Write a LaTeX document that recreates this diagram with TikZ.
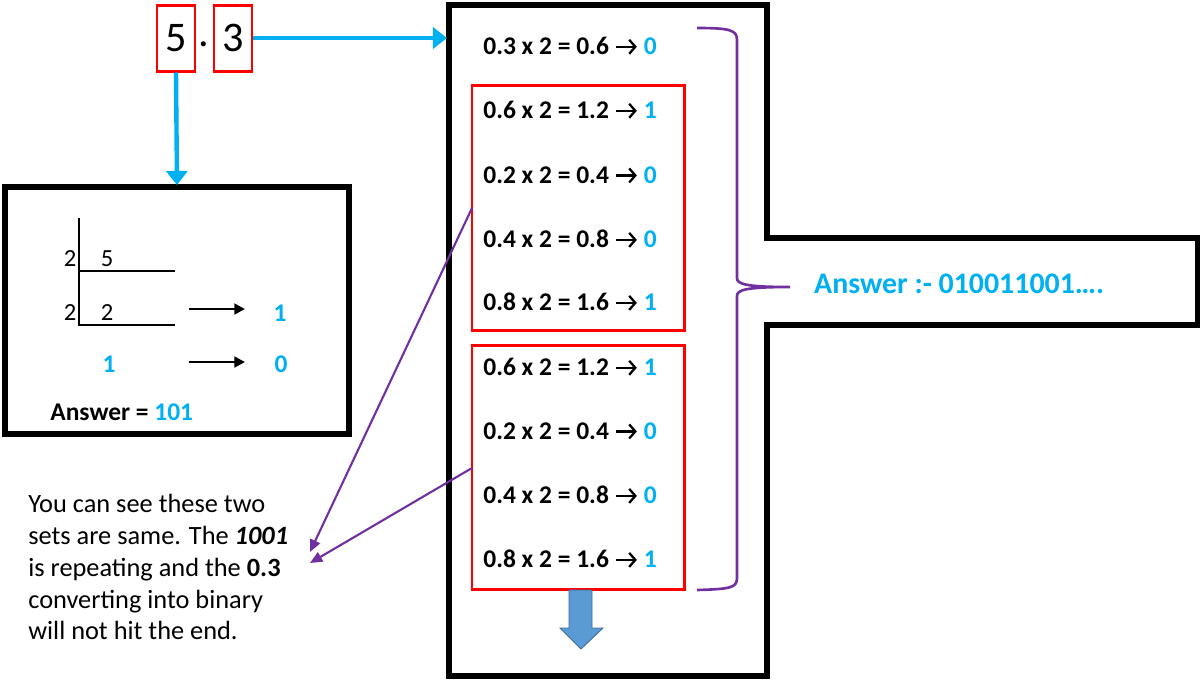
\documentclass[tikz,border=0pt]{standalone}
\usepackage{fontspec}
\setmainfont{Carlito}
\usetikzlibrary{arrows.meta}
\definecolor{cy}{RGB}{0,176,240}
\definecolor{pu}{RGB}{112,48,160}
\definecolor{bl}{RGB}{91,155,213}
\newcommand{\rarr}{\tikz[x=1cm,y=1cm,baseline=-0.3em]\draw[line width=1.3pt,-{Straight Barb[length=3.5pt,width=8pt]}] (0,0) -- (0.42,0);}
\begin{document}
\begin{tikzpicture}[x=0.02cm,y=-0.02cm,
  blk/.style={line width=3.4pt,line join=miter},
  red/.style={draw=red,line width=1.7pt},
  row/.style={anchor=west,font=\bfseries\fontsize{14.5}{16}\selectfont,inner sep=0},
  cyt/.style={text=cy,font=\bfseries\fontsize{14.5}{16}\selectfont},
  dig/.style={font=\fontsize{14}{16}\selectfont},
  carr/.style={draw=cy,line width=2.5pt,-{Triangle[length=8pt,width=12pt]}},
  parr/.style={draw=pu,line width=1.2pt,-{Triangle[length=7pt,width=6pt]}},
  karr/.style={line width=1.5pt,-{Triangle[length=6pt,width=6pt]}}]
\useasboundingbox (0,0) rectangle (1200,681);
% main shape
\draw[blk] (449,5) -- (767,5) -- (767,238) -- (1198,238) -- (1198,325) -- (767,325) -- (767,676) -- (449,676) -- cycle;
% left box
\draw[blk] (5,187) rectangle (349,434);
% 5.3
\node[red,minimum width=38*0.02cm,minimum height=66*0.02cm,font=\fontsize{24}{26}\selectfont] (five) at (176,38) {5};
\node[font=\fontsize{24}{26}\selectfont,inner sep=0] (dot) at (204,44) {.};
\node[red,minimum width=38*0.02cm,minimum height=66*0.02cm,font=\fontsize{24}{26}\selectfont] (three) at (233,38) {3};
\coordinate (lt) at (177,185);
\coordinate (rt) at (447,38);
\draw[carr] (five.south) -- (lt);
\draw[carr] (three.east) -- (rt);
% division
\draw[line width=1.5pt] (79,218) -- (79,326);
\draw[line width=1.5pt] (79,271) -- (175,271);
\draw[line width=1.5pt] (79,325) -- (175,325);
\node[dig] (d1) at (70,259) {2};
\node[dig] (n1) at (107,259) {5};
\node[dig] (d2) at (70,313) {2};
\node[dig] (n2) at (107,313) {2};
\node[cyt] (q) at (109,364) {1};
\node[cyt] (r1) at (280,313) {1};
\node[cyt] (r0) at (281,364) {0};
\coordinate (a1s) at (189,309); \coordinate (a1e) at (245,309);
\coordinate (a2s) at (189,362); \coordinate (a2e) at (245,362);
\draw[karr] (a1s) -- (a1e);
\draw[karr] (a2s) -- (a2e);
\node[row] (ans1) at (50,412) {Answer = \textcolor{cy}{101}};
% rows
\node[row] (r0t) at (483,46) {0.3 x 2 = 0.6 \rarr{} \textcolor{cy}{0}};
\foreach \y/\t/\b [count=\i] in {110/0.6 x 2 = 1.2/1,175/0.2 x 2 = 0.4/0,239/0.4 x 2 = 0.8/0,302/0.8 x 2 = 1.6/1,367/0.6 x 2 = 1.2/1,431/0.2 x 2 = 0.4/0,495/0.4 x 2 = 0.8/0,559/0.8 x 2 = 1.6/1}
  \node[row] (row\i) at (483,\y) {\t{} \rarr{} \textcolor{cy}{\b}};
\draw[red] (472,85) rectangle (684,330);
\draw[red] (472,345) rectangle (684,589);
% brace
\draw[pu,line width=1.5pt] (697,28) .. controls (730,28) and (737,30) .. (737,40) -- (737,278) .. controls (737,284) and (745,287) .. (790,287) .. controls (745,287) and (737,290) .. (737,296) -- (737,578) .. controls (737,588) and (730,589) .. (697,590);
\node[anchor=west,text=cy,font=\bfseries\fontsize{17}{19}\selectfont] (ans2) at (808,284) {Answer :- 010011001….};
% down block arrow
\draw[draw=bl!70!black,fill=bl,line width=0.5pt] (569,590) -- (592,590) -- (592,628) -- (603,628) -- (581,649) -- (560,628) -- (569,628) -- cycle;
% purple arrows
\coordinate (p1s) at (472,208); \coordinate (p1e) at (310,552);
\coordinate (p2s) at (472,468); \coordinate (p2e) at (310,563);
\draw[parr] (p1s) -- (p1e);
\draw[parr] (p2s) -- (p2e);
% note
\node[anchor=north west,align=left,inner sep=0,font=\fontsize{15}{18.1}\selectfont] (note) at (28,494) {You can see these two\\sets are same. The \textbf{\textit{1001}}\\is repeating and the \textbf{0.3}\\converting into binary\\will not hit the end.};
\end{tikzpicture}
\end{document}
